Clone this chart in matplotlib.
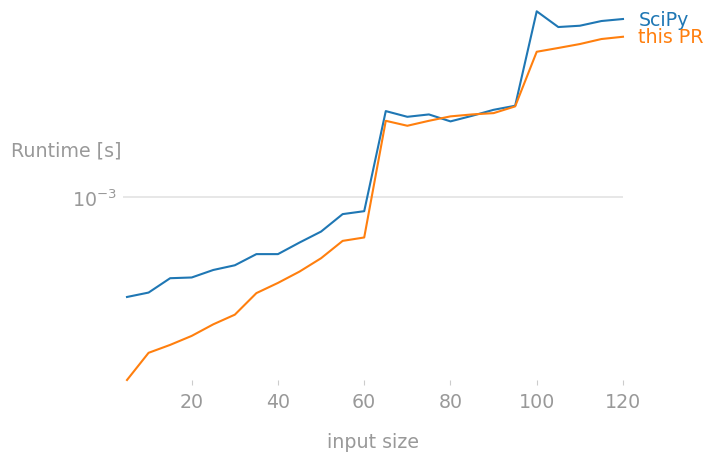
import matplotlib
matplotlib.use("Agg")
import matplotlib.pyplot as plt
from matplotlib.ticker import FixedLocator, NullLocator

# tamaños de entrada
sizes = [5, 10, 15, 20, 25, 30, 35, 40, 45, 50, 55, 60,
         65, 70, 75, 80, 85, 90, 95, 100, 105, 110, 115, 120]

# tiempos (s)
scipy_times = [4.65e-4, 4.81e-4, 5.37e-4, 5.40e-4, 5.72e-4, 5.93e-4, 6.46e-4, 6.46e-4,
               7.06e-4, 7.68e-4, 8.78e-4, 8.98e-4, 1.935e-3, 1.852e-3, 1.886e-3, 1.788e-3,
               1.866e-3, 1.954e-3, 2.016e-3, 4.16e-3, 3.687e-3, 3.724e-3, 3.861e-3, 3.921e-3]
pr_times = [2.46e-4, 3.03e-4, 3.22e-4, 3.45e-4, 3.77e-4, 4.06e-4, 4.79e-4, 5.18e-4,
            5.65e-4, 6.26e-4, 7.15e-4, 7.34e-4, 1.796e-3, 1.729e-3, 1.796e-3, 1.858e-3,
            1.886e-3, 1.905e-3, 2.006e-3, 3.05e-3, 3.14e-3, 3.236e-3, 3.363e-3, 3.422e-3]

series = [("SciPy", scipy_times, "#1f77b4"), ("this PR", pr_times, "#ff7f0e")]

gray = "#999999"
fs = 13.7
fig = plt.figure(figsize=(7.15, 4.64), dpi=100)
ax = fig.add_axes([0.1716, 0.1789, 0.6997, 0.7946])

for name, vals, col in series:
    ax.plot(sizes, vals, color=col, lw=1.5, clip_on=False)
    ax.annotate(name, xy=(sizes[-1], vals[-1]), xytext=(11, 0), textcoords="offset points",
                va="center", ha="left", color=col, fontsize=fs)

ax.set_yscale("log")
ax.set_xlim(4, 120)
ax.set_ylim(min(pr_times), max(scipy_times))
ax.yaxis.set_major_locator(FixedLocator([1e-3]))
ax.yaxis.set_minor_locator(NullLocator())
ax.set_xticks([20, 40, 60, 80, 100, 120])
ax.grid(axis="y", color="#e3e3e3", lw=1.2)
ax.set_axisbelow(True)

for s in ax.spines.values():
    s.set_visible(False)
ax.tick_params(axis="x", colors="#cccccc", labelcolor=gray, labelsize=fs, length=3.5, pad=5)
ax.tick_params(axis="y", length=0, labelcolor=gray, labelsize=fs, pad=4)

ax.set_xlabel("input size", color=gray, fontsize=fs, va="center")
ax.xaxis.set_label_coords(0.5, -0.168)
ax.set_ylabel("Runtime [s]", color=gray, fontsize=fs, rotation=0, ha="center", va="center")
ax.yaxis.set_label_coords(-0.113, 0.624)

fig.savefig("out.png", dpi=100)
